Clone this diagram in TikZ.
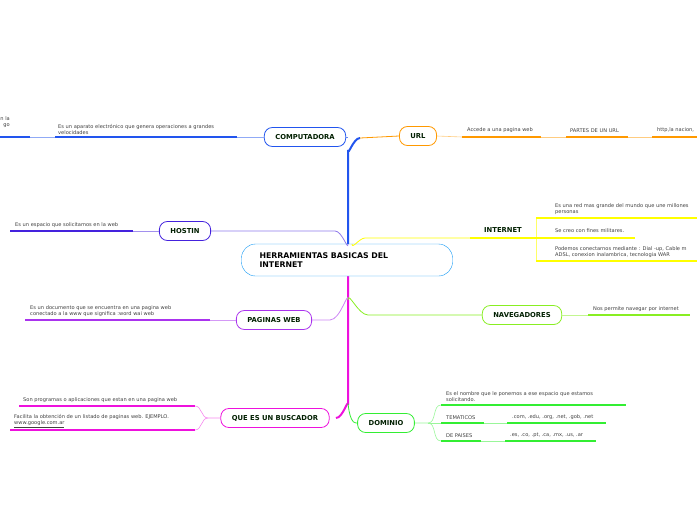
\documentclass[tikz,border=0pt]{standalone}
\usepackage{fontspec}
\setmainfont{DejaVu Sans}
\begin{document}
\begin{tikzpicture}[x=1pt,y=-1pt,
  topic/.style={draw=#1,rounded corners=8pt,line width=0.8pt,fill=white,inner xsep=11pt,minimum height=19pt,font=\fontsize{6.8}{7}\selectfont\bfseries,text=black!70!green!40!black},
  leaf/.style={anchor=south west,inner sep=0pt,align=left,font=\fontsize{5.1}{6.6}\selectfont,text=black!75},
  thick line/.style={draw=#1,line width=1.3pt},
  thin line/.style={draw=#1!50,line width=0.6pt}]
\useasboundingbox (0,0) rectangle (697,520);
\definecolor{cblue}{HTML}{2255EE}\definecolor{corg}{HTML}{FF9900}
\definecolor{cpur}{HTML}{4422DD}\definecolor{cvio}{HTML}{AA33EE}
\definecolor{cyel}{HTML}{FFFF00}\definecolor{clim}{HTML}{88EE22}
\definecolor{cmag}{HTML}{EE11DD}\definecolor{cgrn}{HTML}{33EE33}
% trunk
\draw[cblue,line width=2pt] (348,244) -- (348,150) to[out=-90,in=180] (360,138);
\draw[cmag,line width=2pt] (348,276) -- (348,405) to[out=90,in=0] (336,418);
% center
\node[draw=cblue!60!cyan,rounded corners=14pt,fill=white,minimum width=211pt,minimum height=32pt,text width=175pt,align=left,font=\fontsize{7.8}{9}\selectfont\bfseries] (c) at (347,260) {HERRAMIENTAS BASICAS DEL\\INTERNET};
% topics
\node[topic=cblue] (comp) at (305,137) {COMPUTADORA};
\node[topic=corg] (url) at (418,136) {URL};
\node[topic=cpur] (host) at (185,231) {HOSTIN};
\node[inner sep=1pt,font=\fontsize{6.8}{7}\selectfont\bfseries,text=black!70!green!40!black] (inet) at (503,230) {INTERNET};
\node[topic=cvio] (pag) at (274,320) {PAGINAS WEB};
\node[topic=clim] (nav) at (522,315) {NAVEGADORES};
\node[topic=cmag] (bus) at (275,418) {QUE ES UN BUSCADOR};
\node[topic=cgrn] (dom) at (386,423) {DOMINIO};
% connectors from trunk
\draw[corg,line width=0.8pt] (360,138) -- (url.west);
\draw[cblue!70,line width=0.8pt] (348,137) -- (comp.east);
\draw[cpur!60,line width=0.8pt] (348,244) to[out=-90,in=0] (335,231) -- (host.east);
\draw[cyel,line width=0.8pt] (352,244) to[out=-90,in=180] (365,238) -- (470,238);
\draw[thick line=cyel] (470,238) -- (536,238);
\draw[cvio!60,line width=0.8pt] (348,300) to[out=90,in=0] (330,320) -- (pag.east);
\draw[clim,line width=0.8pt] (348,300) to[out=90,in=180] (368,315) -- (nav.west);
\draw[cgrn,line width=0.8pt] (348,405) to[out=90,in=180] (356,423) -- (dom.west);
% COMPUTADORA leaves
\draw[thin line=cblue] (comp.west) -- (237,137);
\draw[thick line=cblue] (237,137) -- (55,137);
\node[leaf] (l1) at (58,135) {Es un aparato electrónico que genera operaciones a grandes\\velocidades};
\draw[thin line=cblue] (55,137) -- (30,137);
\draw[thick line=cblue] (30,137) -- (-5,137);
\node[leaf,anchor=south east,align=right] (l0) at (10,128) {n la\\go};
% URL leaves
\draw[thin line=corg] (url.east) -- (462,137);
\draw[thick line=corg] (462,137) coordinate (u1) -- (541,137) coordinate (u2);
\node[leaf] (ul1) at (467,133) {Accede a una pagina web};
\draw[thin line=corg] (u2) -- (566,137);
\draw[thick line=corg] (566,137) -- (628,137) coordinate (u3);
\node[leaf] (ul2) at (570,133) {PARTES DE UN URL};
\draw[thin line=corg] (u3) -- (652,137);
\draw[thick line=corg] (652,137) -- (700,137);
\node[leaf] (ul3) at (657,133) {http,la nacion,};
% HOSTIN
\draw[thin line=cpur] (host.west) -- (133,231);
\draw[thick line=cpur] (133,231) -- (10,231);
\node[leaf] (hl) at (15,228) {Es un espacio que solicitamos  en la web};
% INTERNET
\draw[cyel!60,line width=0.8pt] (536,218) -- (536,261);
\draw[thick line=cyel] (536,218) -- (700,218);
\draw[thick line=cyel] (536,238) -- (635,238);
\draw[thick line=cyel] (536,261) -- (700,261);
\node[leaf] (il1) at (555,215) {Es una red mas grande del mundo que une millones\\personas};
\node[leaf] (il2) at (555,233) {Se creo con fines militares.};
\node[leaf] (il3) at (555,258) {Podemos conectarnos mediante : Dial -up, Cable m\\ADSL, conexion inalambrica, tecnologia WAR};
% PAGINAS WEB
\draw[thin line=cvio] (pag.west) -- (210,320);
\draw[thick line=cvio] (210,320) -- (25,320);
\node[leaf] (pl) at (30,317) {Es un documento que se encuentra en una pagina web\\conectado a la www que significa :word wai web};
% NAVEGADORES
\draw[thin line=clim] (nav.east) -- (588,315);
\draw[thick line=clim] (588,315) -- (690,315);
\node[leaf] (nl) at (593,312) {Nos permite navegar por internet};
% BUSCADOR
\draw[thin line=cmag] (bus.west) -- (208,418) to[out=180,in=0] (195,406);
\draw[thin line=cmag] (208,418) to[out=180,in=0] (195,430);
\draw[thick line=cmag] (195,406) -- (19,406);
\draw[thick line=cmag] (195,430) -- (10,430);
\node[leaf] (bl1) at (23,403) {Son programas o aplicaciones que estan en una pagina web};
\node[leaf] (bl2) at (14,428) {Facilita la obtención de un listado de paginas web. EJEMPLO.\\\underline{www.google.com.ar}};
% DOMINIO
\draw[thin line=cgrn] (dom.east) -- (428,423) to[out=0,in=180] (441,405);
\draw[thin line=cgrn] (428,423) -- (441,423);
\draw[thin line=cgrn] (428,423) to[out=0,in=180] (441,441);
\draw[thick line=cgrn] (441,405) -- (626,405);
\draw[thick line=cgrn] (441,423) -- (484,423);
\draw[thin line=cgrn] (484,423) -- (507,423);
\draw[thick line=cgrn] (507,423) -- (606,423);
\draw[thick line=cgrn] (441,441) -- (481,441);
\draw[thin line=cgrn] (481,441) -- (505,441);
\draw[thick line=cgrn] (505,441) -- (596,441);
\node[leaf] (dl1) at (446,402) {Es el nombre que le ponemos a ese espacio que estamos\\solicitando.};
\node[leaf] (dl2) at (446,420) {TEMATICOS};
\node[leaf] (dl3) at (512,420) {.com, .edu, .org, .net, .gob, .net};
\node[leaf] (dl4) at (446,438) {DE PAISES};
\node[leaf] (dl5) at (510,438) {.es, .co, .pt, .ca, .mx, .us, .ar};
\end{tikzpicture}
\end{document}
